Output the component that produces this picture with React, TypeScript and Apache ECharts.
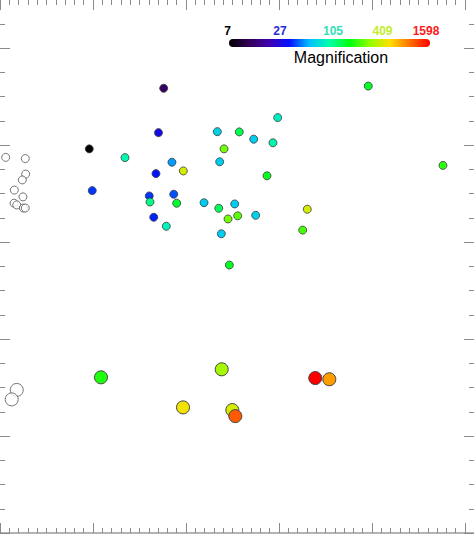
import React, { useEffect, useRef } from "react";
import * as echarts from "echarts";

// ---- data (x in minor x-tick units, y in minor y-tick units) ----
const MAG_MIN = 7;
const MAG_MAX = 1598;
const colorbarTicks = [7, 27, 105, 409, 1598];
const colorbarTickColors = ["#000000", "#2a2ad8", "#33e0b8", "#c4ec2c", "#ff1a1a"];
const rainbow = [
  "#000000", "#330055", "#4000b0", "#0010ff", "#00c0ff", "#00ffa8",
  "#00ff10", "#90ff00", "#ffe000", "#ff7000", "#ff0000",
];

const smallX = [17.6, 9.6, 39.6, 47.63, 13.44, 17.04, 16.77, 18.49, 19.71, 9.92, 16.05, 16.13, 18.68, 19.0, 16.53, 17.88,
  23.37, 25.73, 29.86, 27.28, 29.35, 24.09, 23.62, 28.71, 21.94, 23.52, 25.24, 24.52, 25.56, 27.49, 33.04, 23.8, 32.55, 24.66];
const smallY = [18.34, 15.84, 18.43, 15.16, 15.48, 16.51, 14.82, 15.29, 14.93, 14.12, 13.9, 13.65, 13.97, 13.6, 13.02, 12.65,
  16.55, 16.54, 17.13, 16.24, 16.09, 15.84, 15.31, 14.73, 13.62, 13.39, 13.57, 12.95, 13.08, 13.1, 13.35, 12.34, 12.49, 11.05];
const smallMag = [13, 7, 170, 214, 100, 30, 36, 55, 434, 40, 40, 118, 44, 163, 38, 95,
  72, 146, 90, 68, 100, 281, 68, 172, 68, 139, 68, 281, 252, 72, 434, 68, 238, 172];

const largeX = [10.86, 23.84, 19.68, 24.98, 25.3, 33.9, 35.41];
const largeY = [6.42, 6.75, 5.18, 5.07, 4.82, 6.39, 6.34];
const largeMag = [203, 349, 511, 434, 1034, 1598, 745];

const openSmallX = [0.61, 2.72, 2.76, 2.4, 1.54, 2.47, 1.51, 1.8, 2.51, 2.72];
const openSmallY = [15.49, 15.44, 14.8, 14.56, 14.14, 13.86, 13.6, 13.53, 13.4, 13.4];
const openLargeX = [1.8, 1.26];
const openLargeY = [5.9, 5.51];

const TICK = "#8a8a8a";

// layout: the chart div extends beyond the page (top by 49px, right by 84px)
const SHIFT_Y = 49;
const PLOT_W = 558;
const PLOT_H = 582;
const PAGE_W = 474;

function axisCommon(show: boolean) {
  return {
    type: "value" as const,
    show,
    axisLabel: { show: false },
    splitLine: { show: false },
    axisTick: { show: true, inside: true, length: 10, lineStyle: { color: TICK, width: 1 } },
  };
}

function xAxisOf(gridIndex: number, position: string, show: boolean, line = false) {
  return {
    ...axisCommon(show),
    gridIndex,
    position,
    min: 0,
    max: 60,
    interval: 10,
    axisLine: { show: line, onZero: false, lineStyle: { color: "#9a9a9a", width: 1.5 } },
    minorTick: { show: true, splitNumber: 10, length: 5, lineStyle: { color: TICK, width: 1 } },
  };
}

function yAxisOf(gridIndex: number, position: string, show: boolean) {
  return {
    ...axisCommon(show),
    gridIndex,
    position,
    min: 0,
    max: 24,
    interval: 4,
    axisLine: { show: false, onZero: false },
    minorTick: { show: true, splitNumber: 4, length: 5, lineStyle: { color: TICK, width: 1 } },
  };
}

export default function App() {
  const ref = useRef<HTMLDivElement>(null);
  useEffect(() => {
    if (!ref.current) return;
    document.body.style.overflow = "hidden";
    const chart = echarts.init(ref.current, null, { renderer: "svg" });
    const lmin = Math.log10(MAG_MIN);
    const lmax = Math.log10(MAG_MAX);
    const small = smallX.map((x, i) => [x, smallY[i], Math.log10(smallMag[i])]);
    const large = largeX.map((x, i) => [x, largeY[i], Math.log10(largeMag[i])]);
    const openS = openSmallX.map((x, i) => [x, openSmallY[i]]);
    const openL = openLargeX.map((x, i) => [x, openLargeY[i]]);

    const barX = 229, barY = 39 + SHIFT_Y, barW = 201, barH = 8;
    const labelXs = [227.5, 280, 333, 382.5, 426];

    chart.setOption({
      animation: false,
      backgroundColor: "#ffffff",
      grid: [
        { left: 0, top: 0, width: PLOT_W, height: PLOT_H, containLabel: false, outerBoundsMode: "none" },
        { left: 0, top: SHIFT_Y, width: PLOT_W, height: 100, containLabel: false, outerBoundsMode: "none" },
        { left: 0, top: 0, width: PAGE_W, height: PLOT_H, containLabel: false, outerBoundsMode: "none" },
      ],
      xAxis: [
        xAxisOf(0, "bottom", true, true),
        xAxisOf(1, "top", true),
        xAxisOf(2, "bottom", false),
      ],
      yAxis: [
        yAxisOf(0, "left", true),
        yAxisOf(1, "left", false),
        yAxisOf(2, "right", true),
      ],
      visualMap: {
        type: "continuous",
        show: false,
        dimension: 2,
        min: lmin,
        max: lmax,
        seriesIndex: [2, 3],
        inRange: { color: rainbow },
      },
      series: [
        {
          type: "scatter", data: openS, symbolSize: 8,
          itemStyle: { color: "#ffffff", borderColor: "#555555", borderWidth: 1 },
        },
        {
          type: "scatter", data: openL, symbolSize: 13,
          itemStyle: { color: "#ffffff", borderColor: "#555555", borderWidth: 1 },
        },
        {
          type: "scatter", data: small, symbolSize: 8,
          itemStyle: { borderColor: "#3a3a3a", borderWidth: 0.8, opacity: 1 },
        },
        {
          type: "scatter", data: large, symbolSize: 13,
          itemStyle: { borderColor: "#444444", borderWidth: 1, opacity: 1 },
        },
      ],
      graphic: [
        {
          type: "rect",
          shape: { x: barX, y: barY, width: barW, height: barH, r: barH / 2 },
          style: {
            fill: new echarts.graphic.LinearGradient(0, 0, 1, 0,
              rainbow.map((c, i) => ({ offset: i / (rainbow.length - 1), color: c }))),
          },
          z: 100,
        },
        ...colorbarTicks.map((v, i) => ({
          type: "text",
          x: labelXs[i],
          y: 31 + SHIFT_Y,
          style: {
            text: String(v),
            fill: colorbarTickColors[i],
            font: "bold 12px 'Liberation Sans', Arial, sans-serif",
            textAlign: "center",
            textVerticalAlign: "middle",
          },
          z: 100,
        })),
        {
          type: "text",
          x: 341,
          y: 57 + SHIFT_Y,
          style: {
            text: "Magnification",
            fill: "#000000",
            font: "16px 'Liberation Sans', Arial, sans-serif",
            textAlign: "center",
            textVerticalAlign: "middle",
          },
          z: 100,
        },
      ],
    });
    return () => chart.dispose();
  }, []);
  return (
    <div
      ref={ref}
      style={{ position: "fixed", left: 0, top: -SHIFT_Y, width: PLOT_W, height: PLOT_H + 1, background: "#fff" }}
    />
  );
}
